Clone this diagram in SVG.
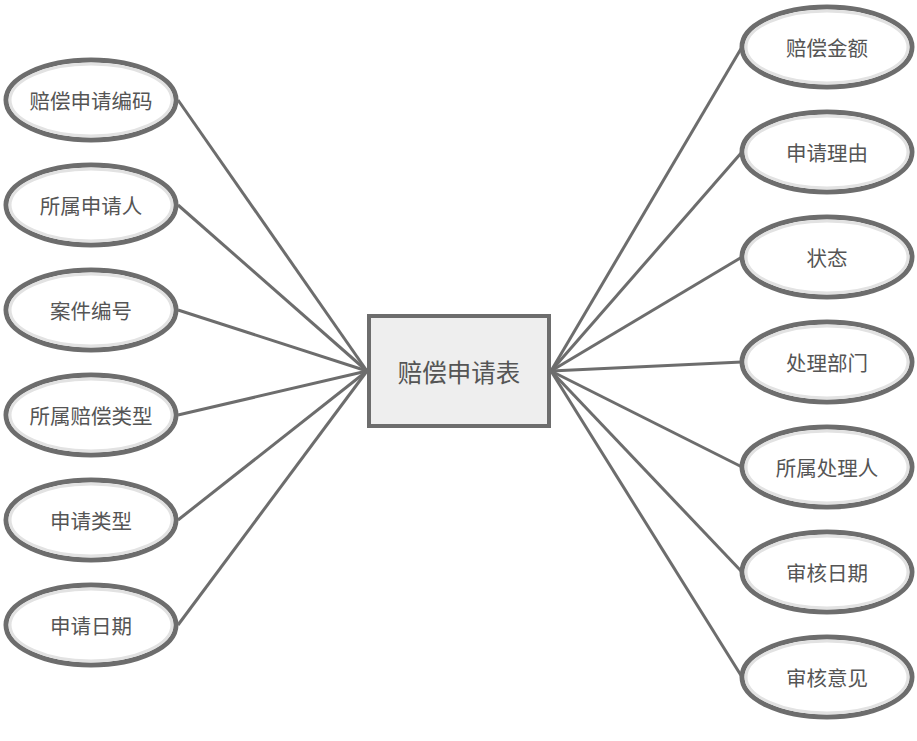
<svg xmlns="http://www.w3.org/2000/svg" width="917" height="741" viewBox="0 0 917 741">
<style>
.e{fill:#ffffff;stroke:#6d6d6d;stroke-width:5}
.g{fill:none;stroke:#e2e2e2;stroke-width:3}
.t{font-family:"Noto Sans CJK SC","Liberation Sans",sans-serif;font-size:20.5px;fill:#555555;text-anchor:middle;dominant-baseline:central}
.c{stroke:#6d6d6d;stroke-width:3;fill:none}
</style>
<rect width="917" height="741" fill="#ffffff"/>
<g id="connectors">
<line class="c" x1="178" y1="100" x2="367" y2="371"/>
<line class="c" x1="178" y1="205" x2="367" y2="371"/>
<line class="c" x1="178" y1="310" x2="367" y2="371"/>
<line class="c" x1="178" y1="415" x2="367" y2="371"/>
<line class="c" x1="178" y1="520" x2="367" y2="371"/>
<line class="c" x1="178" y1="625" x2="367" y2="371"/>
<line class="c" x1="551" y1="371" x2="742" y2="47"/>
<line class="c" x1="551" y1="371" x2="742" y2="152"/>
<line class="c" x1="551" y1="371" x2="742" y2="257"/>
<line class="c" x1="551" y1="371" x2="742" y2="362"/>
<line class="c" x1="551" y1="371" x2="742" y2="467"/>
<line class="c" x1="551" y1="371" x2="742" y2="572"/>
<line class="c" x1="551" y1="371" x2="742" y2="677"/>
</g>
<g id="center">
<rect x="369" y="316" width="180" height="110" fill="#eeeeee" stroke="#6d6d6d" stroke-width="4"/>
<text class="t" x="459" y="371" style="font-size:24.5px">赔偿申请表</text>
</g>
<g id="n1"><ellipse class="e" cx="91" cy="100" rx="85" ry="40"/><ellipse class="g" cx="91" cy="100" rx="81" ry="36"/><text class="t" x="91" y="100">赔偿申请编码</text></g>
<g id="n2"><ellipse class="e" cx="91" cy="205" rx="85" ry="40"/><ellipse class="g" cx="91" cy="205" rx="81" ry="36"/><text class="t" x="91" y="205">所属申请人</text></g>
<g id="n3"><ellipse class="e" cx="91" cy="310" rx="85" ry="40"/><ellipse class="g" cx="91" cy="310" rx="81" ry="36"/><text class="t" x="91" y="310">案件编号</text></g>
<g id="n4"><ellipse class="e" cx="91" cy="415" rx="85" ry="40"/><ellipse class="g" cx="91" cy="415" rx="81" ry="36"/><text class="t" x="91" y="415">所属赔偿类型</text></g>
<g id="n5"><ellipse class="e" cx="91" cy="520" rx="85" ry="40"/><ellipse class="g" cx="91" cy="520" rx="81" ry="36"/><text class="t" x="91" y="520">申请类型</text></g>
<g id="n6"><ellipse class="e" cx="91" cy="625" rx="85" ry="40"/><ellipse class="g" cx="91" cy="625" rx="81" ry="36"/><text class="t" x="91" y="625">申请日期</text></g>
<g id="n7"><ellipse class="e" cx="827" cy="47" rx="85" ry="40"/><ellipse class="g" cx="827" cy="47" rx="81" ry="36"/><text class="t" x="827" y="47">赔偿金额</text></g>
<g id="n8"><ellipse class="e" cx="827" cy="152" rx="85" ry="40"/><ellipse class="g" cx="827" cy="152" rx="81" ry="36"/><text class="t" x="827" y="152">申请理由</text></g>
<g id="n9"><ellipse class="e" cx="827" cy="257" rx="85" ry="40"/><ellipse class="g" cx="827" cy="257" rx="81" ry="36"/><text class="t" x="827" y="257">状态</text></g>
<g id="n10"><ellipse class="e" cx="827" cy="362" rx="85" ry="40"/><ellipse class="g" cx="827" cy="362" rx="81" ry="36"/><text class="t" x="827" y="362">处理部门</text></g>
<g id="n11"><ellipse class="e" cx="827" cy="467" rx="85" ry="40"/><ellipse class="g" cx="827" cy="467" rx="81" ry="36"/><text class="t" x="827" y="467">所属处理人</text></g>
<g id="n12"><ellipse class="e" cx="827" cy="572" rx="85" ry="40"/><ellipse class="g" cx="827" cy="572" rx="81" ry="36"/><text class="t" x="827" y="572">审核日期</text></g>
<g id="n13"><ellipse class="e" cx="827" cy="677" rx="85" ry="40"/><ellipse class="g" cx="827" cy="677" rx="81" ry="36"/><text class="t" x="827" y="677">审核意见</text></g>
</svg>
